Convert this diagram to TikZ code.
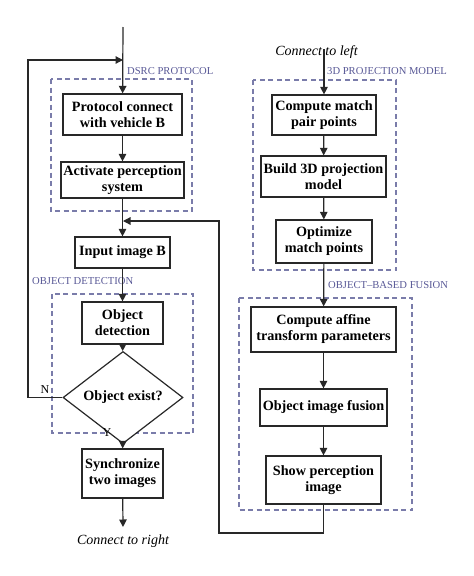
\documentclass[tikz,border=0pt]{standalone}
\usepackage{fontspec}
\setmainfont{Liberation Serif}
\usepackage{tikz}
\usetikzlibrary{arrows.meta, shapes.geometric, positioning}
\definecolor{groupBlue}{RGB}{122,124,170}
\definecolor{labelBlue}{RGB}{88,88,150}
\definecolor{lineGray}{RGB}{40,40,40}
\tikzset{
    stepBox/.style={rectangle, draw=lineGray, line width=1.2pt, fill=white, align=center, inner sep=1pt, font=\fontsize{14.2}{16}\selectfont\bfseries},
    decision/.style={diamond, draw=lineGray, line width=1.2pt, fill=white, align=center, inner sep=0pt, minimum width=120pt, minimum height=61pt, font=\fontsize{14.2}{16}\selectfont\bfseries},
    group/.style={draw=groupBlue, line width=1.1pt, dash pattern=on 5pt off 3.5pt},
    groupLabel/.style={anchor=west, text=labelBlue, inner sep=0pt, font=\fontsize{10.6}{12}\selectfont},
    arrow/.style={-{Triangle[length=7.5pt, width=7.5pt]}, line width=1.2pt, draw=lineGray},
    note/.style={font=\fontsize{14}{16}\selectfont\itshape, inner sep=0pt},
    yesNo/.style={font=\fontsize{12}{14}\selectfont, inner sep=0pt}
}

\begin{document}
\begin{tikzpicture}[x=1pt, y=-1pt]
    \useasboundingbox (0,0) rectangle (474,576);

    % dashed groups
    \draw[group] (51,79) rectangle (192,211);
    \draw[group] (52,294) rectangle (193,433);
    \draw[group] (253,80) rectangle (396,270);
    \draw[group] (239,298) rectangle (412,510);
    \node[groupLabel] (lblDsrc) at (127,71) {DSRC PROTOCOL};
    \node[groupLabel] (lblDetect) at (32,281) {OBJECT DETECTION};
    \node[groupLabel] (lblProj) at (327,71) {3D PROJECTION MODEL};
    \node[groupLabel] (lblFusion) at (328,285) {OBJECT--BASED FUSION};

    % left column
    \node[stepBox, minimum width=119pt, minimum height=41pt] (proto) at (122.5,114.5) {Protocol connect\\with vehicle B};
    \node[stepBox, minimum width=123pt, minimum height=36pt] (activ) at (122.5,180) {Activate perception\\system};
    \node[stepBox, minimum width=95pt, minimum height=31pt] (input) at (122.5,252.5) {Input image B};
    \node[stepBox, minimum width=81pt, minimum height=42pt] (objDet) at (122.5,323) {Object\\detection};
    \node[decision] (exist) at (123,397.5) {Object exist?};
    \node[stepBox, minimum width=81pt, minimum height=49pt] (sync) at (122.5,473.5) {Synchronize\\two images};
    \node[note] (toRight) at (123,541) {Connect to right};
    \node[yesNo] (noLbl) at (45,390) {N};
    \node[yesNo] (yesLbl) at (107,433) {Y};

    % right column
    \node[note] (toLeft) at (316.5,52) {Connect to left};
    \node[stepBox, minimum width=104pt, minimum height=40pt] (match) at (324,115) {Compute match\\pair points};
    \node[stepBox, minimum width=125pt, minimum height=41pt] (build) at (323.5,176.5) {Build 3D projection\\model};
    \node[stepBox, minimum width=96pt, minimum height=43pt] (optim) at (324,241.5) {Optimize\\match points};
    \node[stepBox, minimum width=145pt, minimum height=45pt] (affine) at (323.5,329.5) {Compute affine\\transform parameters};
    \node[stepBox, minimum width=127pt, minimum height=37pt] (fusion) at (323.5,407.5) {Object image fusion};
    \node[stepBox, minimum width=115pt, minimum height=48pt] (show) at (323.5,480) {Show perception\\image};

    \coordinate (start) at (123,27);
    \coordinate (loopLeft) at (28,60);
    \coordinate (loopIn) at (123,60);
    \coordinate (backRight) at (219,533);
    \coordinate (backIn) at (123,221);
    \coordinate (toRightEnd) at (123,527);
    \coordinate (fromLeft) at (324,49);

    \draw[arrow] (start) -- (proto);
    \draw[arrow] (proto) -- (activ);
    \draw[arrow] (activ) -- (input);
    \draw[arrow] (input) -- (objDet);
    \draw[arrow] (objDet) -- (exist);
    \draw[arrow] (exist) -- (sync);
    \draw[arrow] (sync) -- (toRightEnd);
    \draw[arrow] (exist.west) -| (loopLeft) -- (loopIn);

    \draw[arrow] (fromLeft) -- (match);
    \draw[arrow] (match) -- (build);
    \draw[arrow] (build) -- (optim);
    \draw[arrow] (optim) -- (affine);
    \draw[arrow] (affine) -- (fusion);
    \draw[arrow] (fusion) -- (show);
    \draw[arrow] (show.south) |- (backRight) |- (backIn);
\end{tikzpicture}
\end{document}
